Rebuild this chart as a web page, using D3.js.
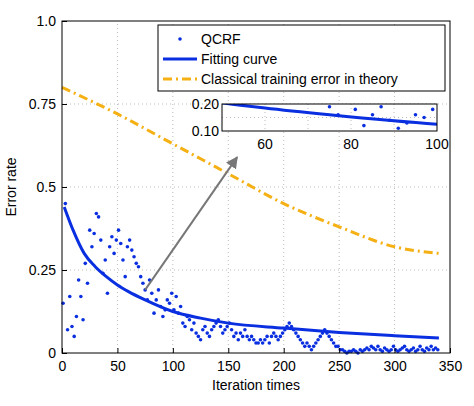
<!DOCTYPE html>
<html><head><meta charset="utf-8">
<script src="https://cdn.jsdelivr.net/npm/d3@7"></script>
<style>body{margin:0;background:#fff}text{font-family:"Liberation Sans",Arial,sans-serif}</style>
</head><body><svg width="474" height="406"></svg>
<script>
const xTicks = [0, 50, 100, 150, 200, 250, 300, 350];
const yTicks = [0, 0.25, 0.5, 0.75, 1.0];
const yTickLabels = ["0", "0.25", "0.5", "0.75", "1.0"];
// QCRF samples at iterations 1,3,5,...,339
const qcrf = [
  0.15,0.45,0.07,0.17,0.08,0.05,0.11,0.22,0.17,0.10,
  0.27,0.21,0.37,0.32,0.36,0.42,0.41,0.34,0.24,0.28,
  0.18,0.32,0.35,0.30,0.34,0.37,0.33,0.28,0.23,0.32,
  0.34,0.31,0.29,0.27,0.26,0.23,0.21,0.19,0.16,0.22,
  0.18,0.12,0.16,0.19,0.14,0.11,0.13,0.16,0.15,0.18,
  0.13,0.17,0.12,0.14,0.09,0.08,0.11,0.10,0.07,0.09,
  0.06,0.05,0.04,0.07,0.08,0.06,0.05,0.07,0.08,0.09,
  0.10,0.08,0.06,0.07,0.08,0.09,0.07,0.05,0.06,0.04,
  0.06,0.05,0.07,0.05,0.04,0.05,0.04,0.03,0.03,0.04,
  0.03,0.04,0.05,0.03,0.05,0.06,0.05,0.04,0.05,0.06,
  0.07,0.08,0.09,0.08,0.07,0.06,0.05,0.04,0.03,0.02,
  0.03,0.02,0.01,0.02,0.03,0.04,0.05,0.06,0.07,0.06,
  0.05,0.04,0.03,0.02,0.02,0.01,0.01,0.005,0.0,0.005,
  0.005,0.01,0.005,0.0,0.01,0.005,0.01,0.015,0.01,0.02,
  0.015,0.01,0.02,0.01,0.005,0.015,0.01,0.005,0.01,0.02,
  0.01,0.005,0.01,0.015,0.02,0.01,0.005,0.01,0.015,0.005,
  0.01,0.02,0.01,0.005,0.015,0.01,0.02,0.01,0.015,0.01
];
const fitX = [2, 10, 20, 30, 40, 50, 60, 75, 100, 125, 150, 200, 250, 300, 340];
const fitY = [0.44, 0.37, 0.30, 0.26, 0.23, 0.205, 0.185, 0.16, 0.125, 0.105, 0.09, 0.075, 0.062, 0.052, 0.045];
const theoryX = [0, 50, 100, 150, 200, 250, 300, 340];
const theoryY = [0.80, 0.72, 0.63, 0.54, 0.45, 0.38, 0.32, 0.30];
const legendLabels = ["QCRF", "Fitting curve", "Classical training error in theory"];
const insetXTicks = [60, 80, 100];
const insetYTicks = [0.10, 0.20];
const arrowFrom = [75, 0.19], arrowTo = [158, 0.59];

const blue = "#0a2fe0", orange = "#f5b014";
const svg = d3.select("svg");
const x = d3.scaleLinear().domain([0, 350]).range([62, 450]);
const y = d3.scaleLinear().domain([0, 1]).range([353, 21]);
const pts = qcrf.map((v, i) => [1 + 2 * i, v]);
const fit = fitX.map((v, i) => [v, fitY[i]]);
const theory = theoryX.map((v, i) => [v, theoryY[i]]);

// grid
svg.append("g").selectAll("line").data(xTicks.slice(1, -1)).join("line")
  .attr("x1", x).attr("x2", x).attr("y1", y(0)).attr("y2", y(1))
  .attr("stroke", "#bbb").attr("stroke-dasharray", "1,3");
svg.append("g").selectAll("line").data(yTicks.slice(1, -1)).join("line")
  .attr("y1", y).attr("y2", y).attr("x1", x(0)).attr("x2", x(350))
  .attr("stroke", "#bbb").attr("stroke-dasharray", "1,3");

const line = d3.line().curve(d3.curveMonotoneX).x(d => x(d[0])).y(d => y(d[1]));
svg.append("path").attr("d", line(theory)).attr("fill", "none")
  .attr("stroke", orange).attr("stroke-width", 3).attr("stroke-dasharray", "9,4,2,4");
svg.append("g").selectAll("circle").data(pts).join("circle")
  .attr("cx", d => x(d[0])).attr("cy", d => y(d[1])).attr("r", 1.8).attr("fill", blue);
svg.append("path").attr("d", line(fit)).attr("fill", "none")
  .attr("stroke", blue).attr("stroke-width", 3);

// arrow
svg.append("defs").append("marker").attr("id", "ah").attr("viewBox", "0 0 10 10")
  .attr("refX", 9).attr("refY", 5).attr("markerWidth", 6).attr("markerHeight", 6)
  .attr("orient", "auto").append("path").attr("d", "M0,0L10,5L0,10z").attr("fill", "#777");
svg.append("line").attr("x1", x(arrowFrom[0])).attr("y1", y(arrowFrom[1]))
  .attr("x2", x(arrowTo[0])).attr("y2", y(arrowTo[1]))
  .attr("stroke", "#777").attr("stroke-width", 2).attr("marker-end", "url(#ah)");

// axes
const xa = svg.append("g").attr("transform", `translate(0,${y(0)})`)
  .call(d3.axisBottom(x).tickValues(xTicks).tickSizeInner(-5).tickSizeOuter(0).tickPadding(8));
const ya = svg.append("g").attr("transform", `translate(${x(0)},0)`)
  .call(d3.axisLeft(y).tickValues(yTicks).tickFormat((d, i) => yTickLabels[i]).tickSizeInner(-5).tickSizeOuter(0).tickPadding(6));
[xa, ya].forEach(a => { a.selectAll("text").attr("font-size", 14).attr("fill", "#000"); a.select(".domain").remove(); });
svg.append("rect").attr("x", x(0)).attr("y", y(1)).attr("width", x(350) - x(0)).attr("height", y(0) - y(1))
  .attr("fill", "none").attr("stroke", "#000");
svg.append("text").attr("x", 256).attr("y", 390).attr("text-anchor", "middle").attr("font-size", 14).text("Iteration times");
svg.append("text").attr("transform", "translate(16,187) rotate(-90)").attr("text-anchor", "middle").attr("font-size", 14).text("Error rate");

// legend
const lg = svg.append("g");
lg.append("rect").attr("x", 158).attr("y", 25).attr("width", 287).attr("height", 66).attr("fill", "#fff").attr("stroke", "#000");
legendLabels.forEach((t, i) => {
  const ly = 39 + i * 20;
  if (i === 0) lg.append("circle").attr("cx", 180).attr("cy", ly).attr("r", 1.8).attr("fill", blue);
  else lg.append("line").attr("x1", 163).attr("x2", 197).attr("y1", ly).attr("y2", ly)
    .attr("stroke", i === 1 ? blue : orange).attr("stroke-width", 3)
    .attr("stroke-dasharray", i === 2 ? "9,4,2,4" : null);
  lg.append("text").attr("x", 201).attr("y", ly + 5).attr("font-size", 14).text(t);
});

// inset
const ix = d3.scaleLinear().domain([50, 100]).range([222, 437]);
const iy = d3.scaleLinear().domain([0.10, 0.20]).range([131, 104]);
const ins = svg.append("g");
ins.append("rect").attr("x", 222).attr("y", 104).attr("width", 215).attr("height", 27).attr("fill", "#fff");
ins.append("clipPath").attr("id", "ic").append("rect").attr("x", 222).attr("y", 104).attr("width", 215).attr("height", 27);
ins.selectAll(".g1").data([60, 70, 80, 90]).join("line").attr("x1", ix).attr("x2", ix).attr("y1", 104).attr("y2", 131)
  .attr("stroke", "#bbb").attr("stroke-dasharray", "1,3");
ins.append("line").attr("x1", 222).attr("x2", 437).attr("y1", iy(0.15)).attr("y2", iy(0.15))
  .attr("stroke", "#bbb").attr("stroke-dasharray", "1,3");
const ic = ins.append("g").attr("clip-path", "url(#ic)");
ic.selectAll("circle").data(pts.filter(d => d[0] >= 50 && d[0] <= 100)).join("circle")
  .attr("cx", d => ix(d[0])).attr("cy", d => iy(d[1])).attr("r", 1.8).attr("fill", blue);
const iline = d3.line().curve(d3.curveMonotoneX).x(d => ix(d[0])).y(d => iy(d[1]));
ic.append("path").attr("d", iline(fit)).attr("fill", "none").attr("stroke", blue).attr("stroke-width", 3);
ins.append("rect").attr("x", 222).attr("y", 104).attr("width", 215).attr("height", 27).attr("fill", "none").attr("stroke", "#000");
ins.selectAll(".xt").data(insetXTicks).join("text").attr("x", ix).attr("y", 149)
  .attr("text-anchor", "middle").attr("font-size", 14).text(d => d);
ins.selectAll(".yt").data(insetYTicks).join("text").attr("x", 219).attr("y", d => iy(d) + 5)
  .attr("text-anchor", "end").attr("font-size", 14).text(d => d.toFixed(2));
</script></body></html>
